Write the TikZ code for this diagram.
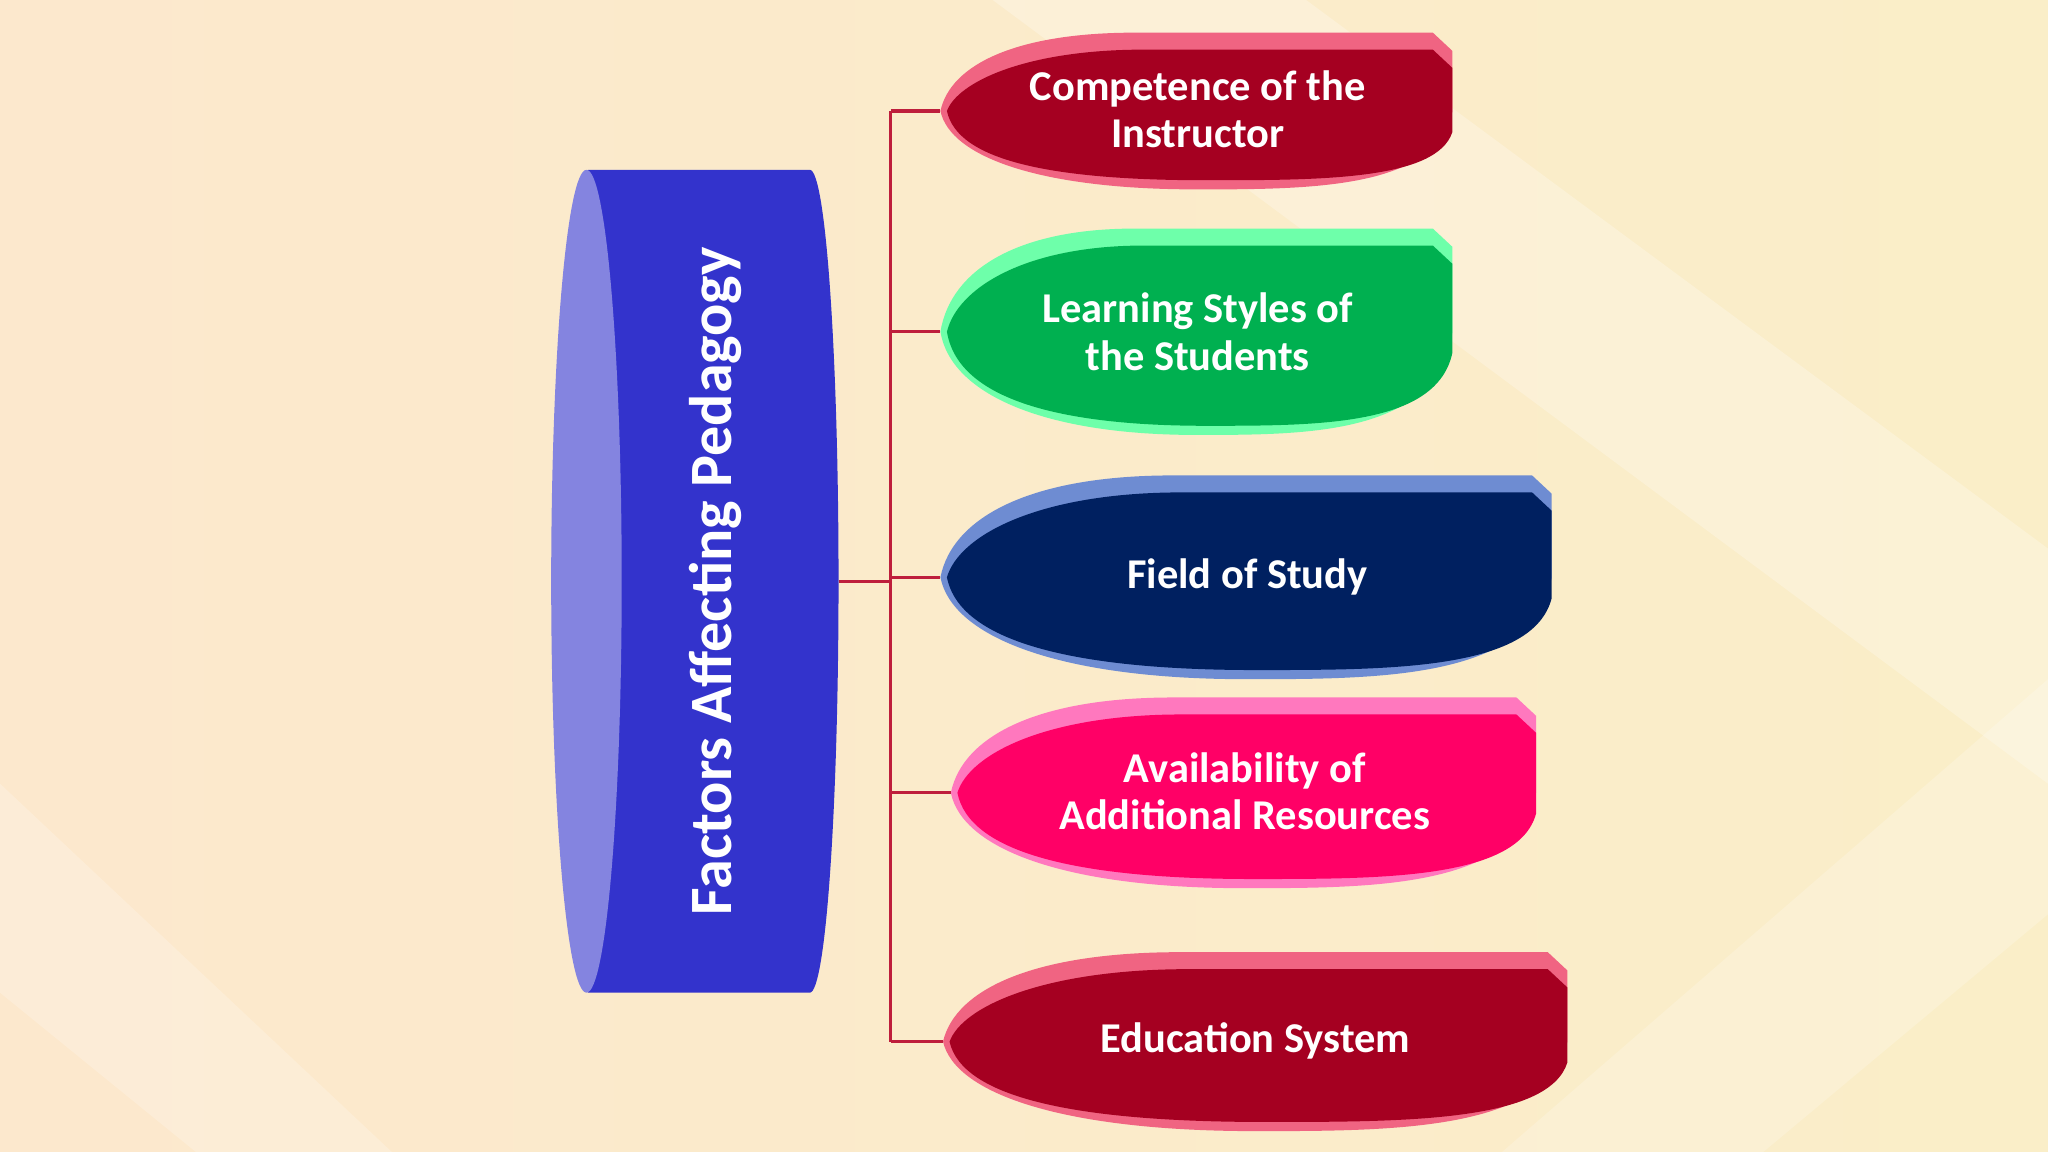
\documentclass[tikz,border=0pt]{standalone}
\usepackage{fontspec}
\setmainfont{Carlito}
\usetikzlibrary{calc}
\definecolor{bgA}{RGB}{252,232,205}
\definecolor{bgB}{RGB}{250,238,200}
\definecolor{cylblue}{RGB}{51,51,204}
\definecolor{cylface}{RGB}{132,132,224}
\definecolor{conn}{RGB}{190,30,60}
\definecolor{dred}{RGB}{165,0,33}
\definecolor{dredL}{RGB}{240,100,130}
\definecolor{grn}{RGB}{0,176,80}
\definecolor{grnL}{RGB}{110,255,170}
\definecolor{navy}{RGB}{0,32,96}
\definecolor{navyL}{RGB}{110,140,210}
\definecolor{pnk}{RGB}{255,0,102}
\definecolor{pnkL}{RGB}{255,120,190}
\newcommand\leafshape[6]{%
 \pgfmathsetmacro\lW{#3-#1}\pgfmathsetmacro\lH{#4-#2}%
 \pgfmathsetmacro\lM{#6}%
 \fill[#5] (#1,\lM) .. controls (#1+0.02*\lW,#2+0.2*\lH) and (#1+0.15*\lW,#2) .. (#1+0.38*\lW,#2)
  -- (#3-15,#2) -- (#3,#2+14) -- (#3,#2+0.5*\lH)
  .. controls (#3-0.03*\lW,#4) and (#1+0.72*\lW,#4) .. (#1+0.5*\lW,#4)
  .. controls (#1+0.2*\lW,#4) and (#1+0.02*\lW,\lM+0.3*\lH) .. (#1,\lM) -- cycle;}
\newcommand\leaf[7]{%
 \pgfmathsetmacro\lMid{#2+0.5*(#4-#2)}%
 \leafshape{#1}{#2}{#3}{#4}{#7}{\lMid}%
 \leafshape{#1+5}{#2+13}{#3}{#4-7}{#6}{\lMid}%
 \coordinate (#5) at (#1,{#2+0.5*(#4-#2)});}
\tikzset{lbl/.style={text=white,font=\bfseries\fontsize{32.5}{36}\selectfont,align=center}}
\begin{document}
\begin{tikzpicture}[x=1pt,y=-1pt]
\useasboundingbox (0,0) rectangle (1568,882);
\shade[left color=bgA,right color=bgB] (0,0) rectangle (1568,882);
\fill[white,opacity=0.25] (760,0) -- (1000,0) -- (1568,420) -- (1568,600) -- cycle;
\fill[white,opacity=0.2] (1150,882) -- (1568,520) -- (1568,700) -- (1350,882) -- cycle;
\fill[white,opacity=0.2] (0,600) -- (300,882) -- (150,882) -- (0,760) -- cycle;
% cylinder
\fill[cylblue] (450,130) -- (620,130) arc[start angle=-90,end angle=90,x radius=22,y radius=315] -- (450,760) -- cycle;
\fill[cylface] (449,445) ellipse[x radius=27,y radius=315];
\node[lbl,rotate=90,font=\bfseries\fontsize{46}{50}\selectfont] (cyl) at (548,445) {Factors Affecting Pedagogy};
\coordinate (cr) at (642,445);
% leaves
\leaf{720}{25}{1112}{145}{l1}{dred}{dredL}
\leaf{720}{175}{1112}{333}{l2}{grn}{grnL}
\leaf{720}{364}{1188}{520}{l3}{navy}{navyL}
\leaf{728}{534}{1176}{680}{l4}{pnk}{pnkL}
\leaf{722}{729}{1200}{866}{l5}{dred}{dredL}
\node[lbl] (t1) at (917,84) {Competence of the\\Instructor};
\node[lbl] (t2) at (917,254) {Learning Styles of\\the Students};
\node[lbl] (t3) at (955,442) {Field of Study};
\node[lbl] (t4) at (953,606) {Availability of\\Additional Resources};
\node[lbl] (t5) at (961,797) {Education System};
% connectors
\coordinate (tr) at (682,445);
\begin{scope}[conn,line width=2.5pt]
\draw (cr) -- (tr);
\foreach \i in {1,...,5}{\draw (tr|-l\i) -- (l\i);}
\draw (tr|-l1) -- (tr|-l5);
\end{scope}
\end{tikzpicture}
\end{document}
